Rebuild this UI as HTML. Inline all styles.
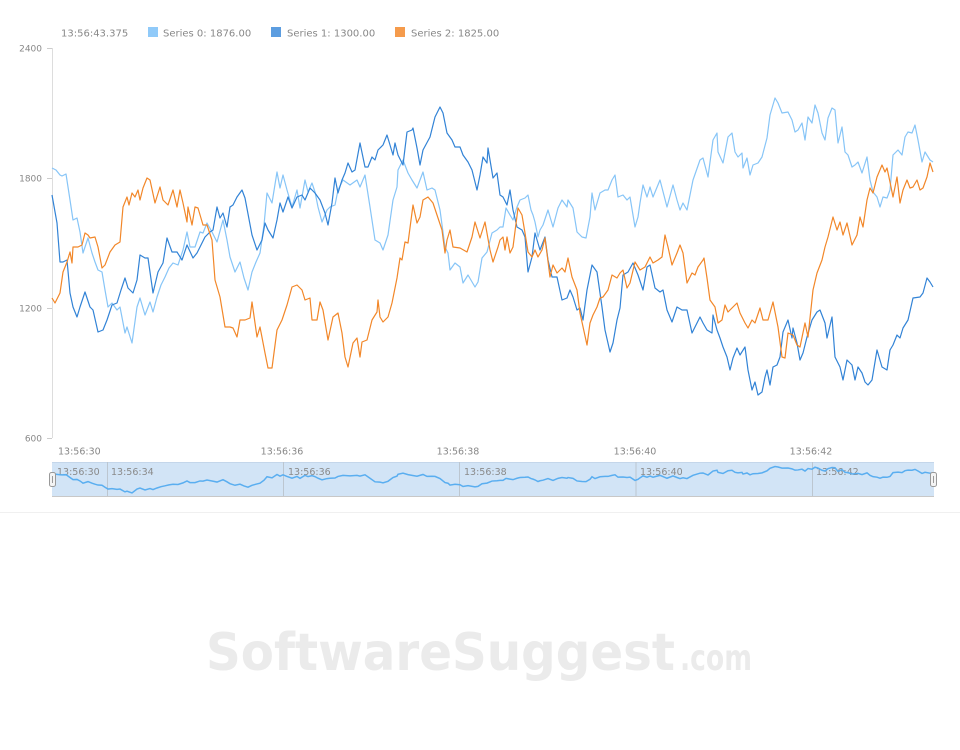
<!DOCTYPE html>
<html><head><meta charset="utf-8"><style>
html,body{margin:0;padding:0;background:#fff;}
svg{display:block;}
text{font-family:"DejaVu Sans","Liberation Sans",sans-serif;}
</style></head><body>
<svg width="960" height="750" viewBox="0 0 960 750" xmlns="http://www.w3.org/2000/svg">
<rect x="0" y="0" width="960" height="750" fill="#fff"/>
<!-- legend -->
<text x="61" y="36.5" font-size="10" fill="#888">13:56:43.375</text>
<rect x="148" y="27" width="10" height="10" fill="#90caf9"/>
<text x="163" y="36.5" font-size="10" fill="#888">Series 0: 1876.00</text>
<rect x="271" y="27" width="10" height="10" fill="#5c9de0"/>
<text x="287" y="36.5" font-size="10" fill="#888">Series 1: 1300.00</text>
<rect x="395" y="27" width="10" height="10" fill="#f59b4c"/>
<text x="411" y="36.5" font-size="10" fill="#888">Series 2: 1825.00</text>
<!-- y axis -->
<line x1="52.5" y1="48" x2="52.5" y2="438" stroke="#ddd" stroke-width="1"/>
<g stroke="#ccc" stroke-width="1">
<line x1="47" y1="48.5" x2="52" y2="48.5"/>
<line x1="47" y1="178.5" x2="52" y2="178.5"/>
<line x1="47" y1="308.5" x2="52" y2="308.5"/>
<line x1="47" y1="438.5" x2="52" y2="438.5"/>
</g>
<g font-size="9" fill="#888" text-anchor="end">
<text x="42" y="51.5">2400</text>
<text x="42" y="181.5">1800</text>
<text x="42" y="311.5">1200</text>
<text x="42" y="441.5">600</text>
</g>
<!-- x labels -->
<g font-size="9.5" fill="#888">
<text x="58" y="454.5">13:56:30</text>
<text x="282" y="454.5" text-anchor="middle">13:56:36</text>
<text x="458" y="454.5" text-anchor="middle">13:56:38</text>
<text x="635" y="454.5" text-anchor="middle">13:56:40</text>
<text x="811" y="454.5" text-anchor="middle">13:56:42</text>
</g>
<!-- series -->
<g fill="none" stroke-width="1.2" stroke-linejoin="round">
<polyline stroke="#87c5f7" points="52,168 56,170 60,175 62,176 66,174 70,200 73,220 77,218 80,232 83,253 88,238 92,253 95,262 98,270 102,272 105,290 108,307 112,303 117,310 120,307 125,333 127,327 132,343 137,307 140,298 145,315 150,302 153,312 157,297 161,285 165,277 169,268 173,263 178,265 183,250 187,232 190,247 195,247 200,232 203,233 207,223 212,232 217,242 223,220 227,240 230,257 235,272 240,262 244,278 248,290 252,272 256,262 260,253 264,225 267,193 272,203 277,172 280,188 283,175 287,190 292,207 297,190 300,208 305,180 308,192 312,183 315,192 318,207 322,222 327,210 330,207 335,205 338,190 343,180 350,185 357,180 360,187 365,175 370,207 375,240 380,243 383,250 388,235 393,200 397,187 398,170 403,160 408,173 412,180 417,188 423,172 427,190 432,188 435,190 440,210 445,247 448,253 450,270 455,263 460,267 463,283 468,275 475,287 478,282 482,258 487,252 492,233 497,230 500,227 503,227 506,208 510,215 513,220 517,207 520,200 525,198 528,195 531,210 533,215 535,222 538,237 540,230 543,225 548,210 553,227 558,208 562,200 567,207 568,200 573,208 577,232 582,237 586,238 590,217 592,193 595,210 600,193 605,190 608,190 612,180 615,175 618,197 623,195 627,200 630,197 635,227 638,217 640,203 643,185 647,197 650,187 653,197 660,180 667,207 673,185 677,200 680,210 683,203 687,210 693,180 700,160 703,158 708,177 713,140 717,133 718,152 723,163 728,137 732,133 735,152 738,157 742,153 743,168 747,158 750,175 753,165 758,163 762,157 767,138 770,115 775,98 778,103 782,113 788,112 792,120 795,132 798,130 802,123 805,140 808,117 812,123 815,105 818,113 822,133 825,140 828,118 832,108 835,110 838,143 842,127 845,152 848,155 852,167 855,165 858,162 862,173 867,157 870,180 873,192 877,197 880,207 883,197 887,198 890,190 893,155 898,150 902,155 905,137 908,132 912,133 915,125 918,140 922,162 925,152 930,160 933,162"/>
<polyline stroke="#3283d6" points="52,195 57,223 60,262 63,262 67,260 70,293 73,307 77,317 80,307 85,292 90,307 93,310 98,332 103,330 107,320 112,305 117,303 121,290 125,278 128,288 133,293 137,280 140,255 145,258 148,258 153,293 158,272 163,263 167,238 172,252 177,252 182,260 187,245 193,258 197,253 200,247 205,237 210,232 213,230 217,207 220,218 223,213 227,227 230,207 233,205 237,197 242,190 245,198 252,235 257,250 262,240 265,223 268,230 273,238 277,220 280,203 283,212 288,197 292,208 297,197 302,195 305,200 310,188 315,193 320,200 325,213 328,225 332,203 335,178 338,193 342,180 345,173 348,163 352,172 355,170 360,143 365,167 368,167 372,157 375,160 378,150 383,145 387,135 390,145 393,155 395,143 398,155 403,165 407,132 412,130 413,128 417,148 420,165 423,150 430,137 435,117 440,107 443,113 447,133 452,140 455,147 460,147 463,155 468,162 472,170 477,190 480,175 483,157 487,163 488,148 493,178 497,173 500,195 503,197 507,205 510,190 513,210 517,227 522,230 525,237 528,272 532,257 535,233 540,250 545,237 548,260 552,277 557,277 562,300 567,298 570,290 573,297 577,310 580,308 583,320 587,290 592,265 597,272 602,307 605,330 610,352 613,343 617,320 620,308 623,275 628,272 633,263 638,275 643,290 647,267 650,265 655,288 660,292 663,290 667,310 672,322 677,307 682,310 687,310 692,333 697,323 700,317 703,323 707,330 712,333 713,315 717,330 720,338 723,347 727,357 730,370 733,358 737,348 740,355 745,347 748,370 752,390 755,382 758,395 762,392 765,377 767,370 770,385 773,367 777,365 780,357 783,332 788,320 792,338 793,328 797,343 800,360 803,353 807,337 812,320 817,312 820,310 825,323 827,338 832,317 835,357 840,367 843,380 847,360 852,365 855,380 858,367 862,373 865,382 868,385 872,380 877,350 882,367 887,370 890,350 893,345 897,335 900,338 903,328 908,320 913,298 920,297 923,293 927,278 930,282 933,287"/>
<polyline stroke="#f28729" points="52,298 55,303 60,293 63,272 67,262 70,252 72,263 73,247 78,247 82,245 85,233 88,235 90,238 95,237 98,247 102,268 105,265 110,252 115,245 120,242 123,207 127,197 129,205 132,193 135,197 138,190 140,200 143,188 147,178 150,180 155,203 160,187 163,200 168,205 173,190 177,207 180,190 183,203 187,222 188,207 192,225 195,207 198,208 203,225 207,225 212,240 215,280 220,297 225,327 230,327 233,328 237,337 240,320 245,320 250,318 252,302 257,337 260,327 265,353 268,368 272,368 277,330 282,320 287,305 292,287 297,285 302,290 305,300 310,298 312,320 317,320 320,302 323,310 328,340 333,317 338,313 342,333 345,357 348,367 353,343 357,338 360,357 362,342 367,340 372,320 377,312 378,300 380,317 383,322 388,317 392,303 397,278 400,258 402,260 405,242 408,243 413,205 417,223 420,217 423,200 428,197 433,203 437,215 442,230 445,253 447,240 450,230 453,247 460,248 467,252 472,237 475,222 480,238 485,222 490,250 493,262 498,247 500,240 503,237 505,250 507,237 510,253 513,247 518,208 522,215 525,233 528,252 532,257 535,250 538,257 542,250 545,238 550,277 553,265 557,273 562,268 565,272 568,258 572,277 577,290 580,313 587,345 590,323 593,315 597,307 600,298 603,297 608,290 612,275 617,278 620,273 623,270 627,288 630,283 635,262 640,270 645,267 650,257 653,263 658,260 662,257 665,235 668,247 672,265 677,253 680,245 683,253 687,283 692,273 695,275 698,267 703,260 704,258 707,278 710,300 715,307 718,323 722,320 725,305 728,312 733,307 737,303 740,313 745,323 748,328 752,320 755,323 760,308 763,320 768,320 773,302 778,327 782,357 785,358 788,333 793,335 797,345 800,347 805,323 808,337 813,290 817,273 822,260 825,247 828,237 833,217 837,230 840,222 843,235 847,223 852,245 857,235 860,217 863,227 867,200 870,188 873,193 877,177 882,165 885,172 887,168 890,182 893,197 897,177 900,203 903,190 907,180 910,188 913,187 917,180 920,190 923,188 927,177 930,163 933,172"/>
</g>
<!-- navigator -->
<rect x="52" y="462" width="882" height="34" fill="#d2e4f6"/>
<line x1="52" y1="462.5" x2="934" y2="462.5" stroke="#c4d6ea" stroke-width="1"/>
<line x1="52" y1="496.5" x2="934" y2="496.5" stroke="#c8c8c8" stroke-width="1"/>
<g stroke="#bcc6d0" stroke-width="1">
<line x1="107.5" y1="462" x2="107.5" y2="496"/>
<line x1="283.5" y1="462" x2="283.5" y2="496"/>
<line x1="459.5" y1="462" x2="459.5" y2="496"/>
<line x1="636" y1="462" x2="636" y2="496"/>
<line x1="812.5" y1="462" x2="812.5" y2="496"/>
</g>
<g font-size="9.5" fill="#8a8a8a">
<text x="57" y="475">13:56:30</text>
<text x="111" y="475">13:56:34</text>
<text x="288" y="475">13:56:36</text>
<text x="464" y="475">13:56:38</text>
<text x="640" y="475">13:56:40</text>
<text x="816" y="475">13:56:42</text>
</g>
<polyline fill="none" stroke="#5aaef0" stroke-width="1.5" vector-effect="non-scaling-stroke" transform="matrix(1 0 0 0.108 0 455.9)" points="52,168 56,170 60,175 62,176 66,174 70,200 73,220 77,218 80,232 83,253 88,238 92,253 95,262 98,270 102,272 105,290 108,307 112,303 117,310 120,307 125,333 127,327 132,343 137,307 140,298 145,315 150,302 153,312 157,297 161,285 165,277 169,268 173,263 178,265 183,250 187,232 190,247 195,247 200,232 203,233 207,223 212,232 217,242 223,220 227,240 230,257 235,272 240,262 244,278 248,290 252,272 256,262 260,253 264,225 267,193 272,203 277,172 280,188 283,175 287,190 292,207 297,190 300,208 305,180 308,192 312,183 315,192 318,207 322,222 327,210 330,207 335,205 338,190 343,180 350,185 357,180 360,187 365,175 370,207 375,240 380,243 383,250 388,235 393,200 397,187 398,170 403,160 408,173 412,180 417,188 423,172 427,190 432,188 435,190 440,210 445,247 448,253 450,270 455,263 460,267 463,283 468,275 475,287 478,282 482,258 487,252 492,233 497,230 500,227 503,227 506,208 510,215 513,220 517,207 520,200 525,198 528,195 531,210 533,215 535,222 538,237 540,230 543,225 548,210 553,227 558,208 562,200 567,207 568,200 573,208 577,232 582,237 586,238 590,217 592,193 595,210 600,193 605,190 608,190 612,180 615,175 618,197 623,195 627,200 630,197 635,227 638,217 640,203 643,185 647,197 650,187 653,197 660,180 667,207 673,185 677,200 680,210 683,203 687,210 693,180 700,160 703,158 708,177 713,140 717,133 718,152 723,163 728,137 732,133 735,152 738,157 742,153 743,168 747,158 750,175 753,165 758,163 762,157 767,138 770,115 775,98 778,103 782,113 788,112 792,120 795,132 798,130 802,123 805,140 808,117 812,123 815,105 818,113 822,133 825,140 828,118 832,108 835,110 838,143 842,127 845,152 848,155 852,167 855,165 858,162 862,173 867,157 870,180 873,192 877,197 880,207 883,197 887,198 890,190 893,155 898,150 902,155 905,137 908,132 912,133 915,125 918,140 922,162 925,152 930,160 933,162"/>
<rect x="49.5" y="472.5" width="6" height="14" rx="2" fill="#f4f4f4" stroke="#999" stroke-width="1"/>
<line x1="52.5" y1="476" x2="52.5" y2="483" stroke="#999"/>
<rect x="930.5" y="472.5" width="6" height="14" rx="2" fill="#f4f4f4" stroke="#999" stroke-width="1"/>
<line x1="933.5" y1="476" x2="933.5" y2="483" stroke="#999"/>
<!-- card border -->
<line x1="0" y1="512.5" x2="960" y2="512.5" stroke="#f0f0f0" stroke-width="1"/>
<!-- watermark -->
<text x="206" y="670" font-family="Liberation Sans, sans-serif" font-weight="bold" font-size="52" fill="#ebebeb" textLength="469" lengthAdjust="spacingAndGlyphs">SoftwareSuggest</text>
<text x="680" y="670" font-family="Liberation Sans, sans-serif" font-weight="bold" font-size="36" fill="#ebebeb" textLength="72" lengthAdjust="spacingAndGlyphs">.com</text>
</svg>
</body></html>
